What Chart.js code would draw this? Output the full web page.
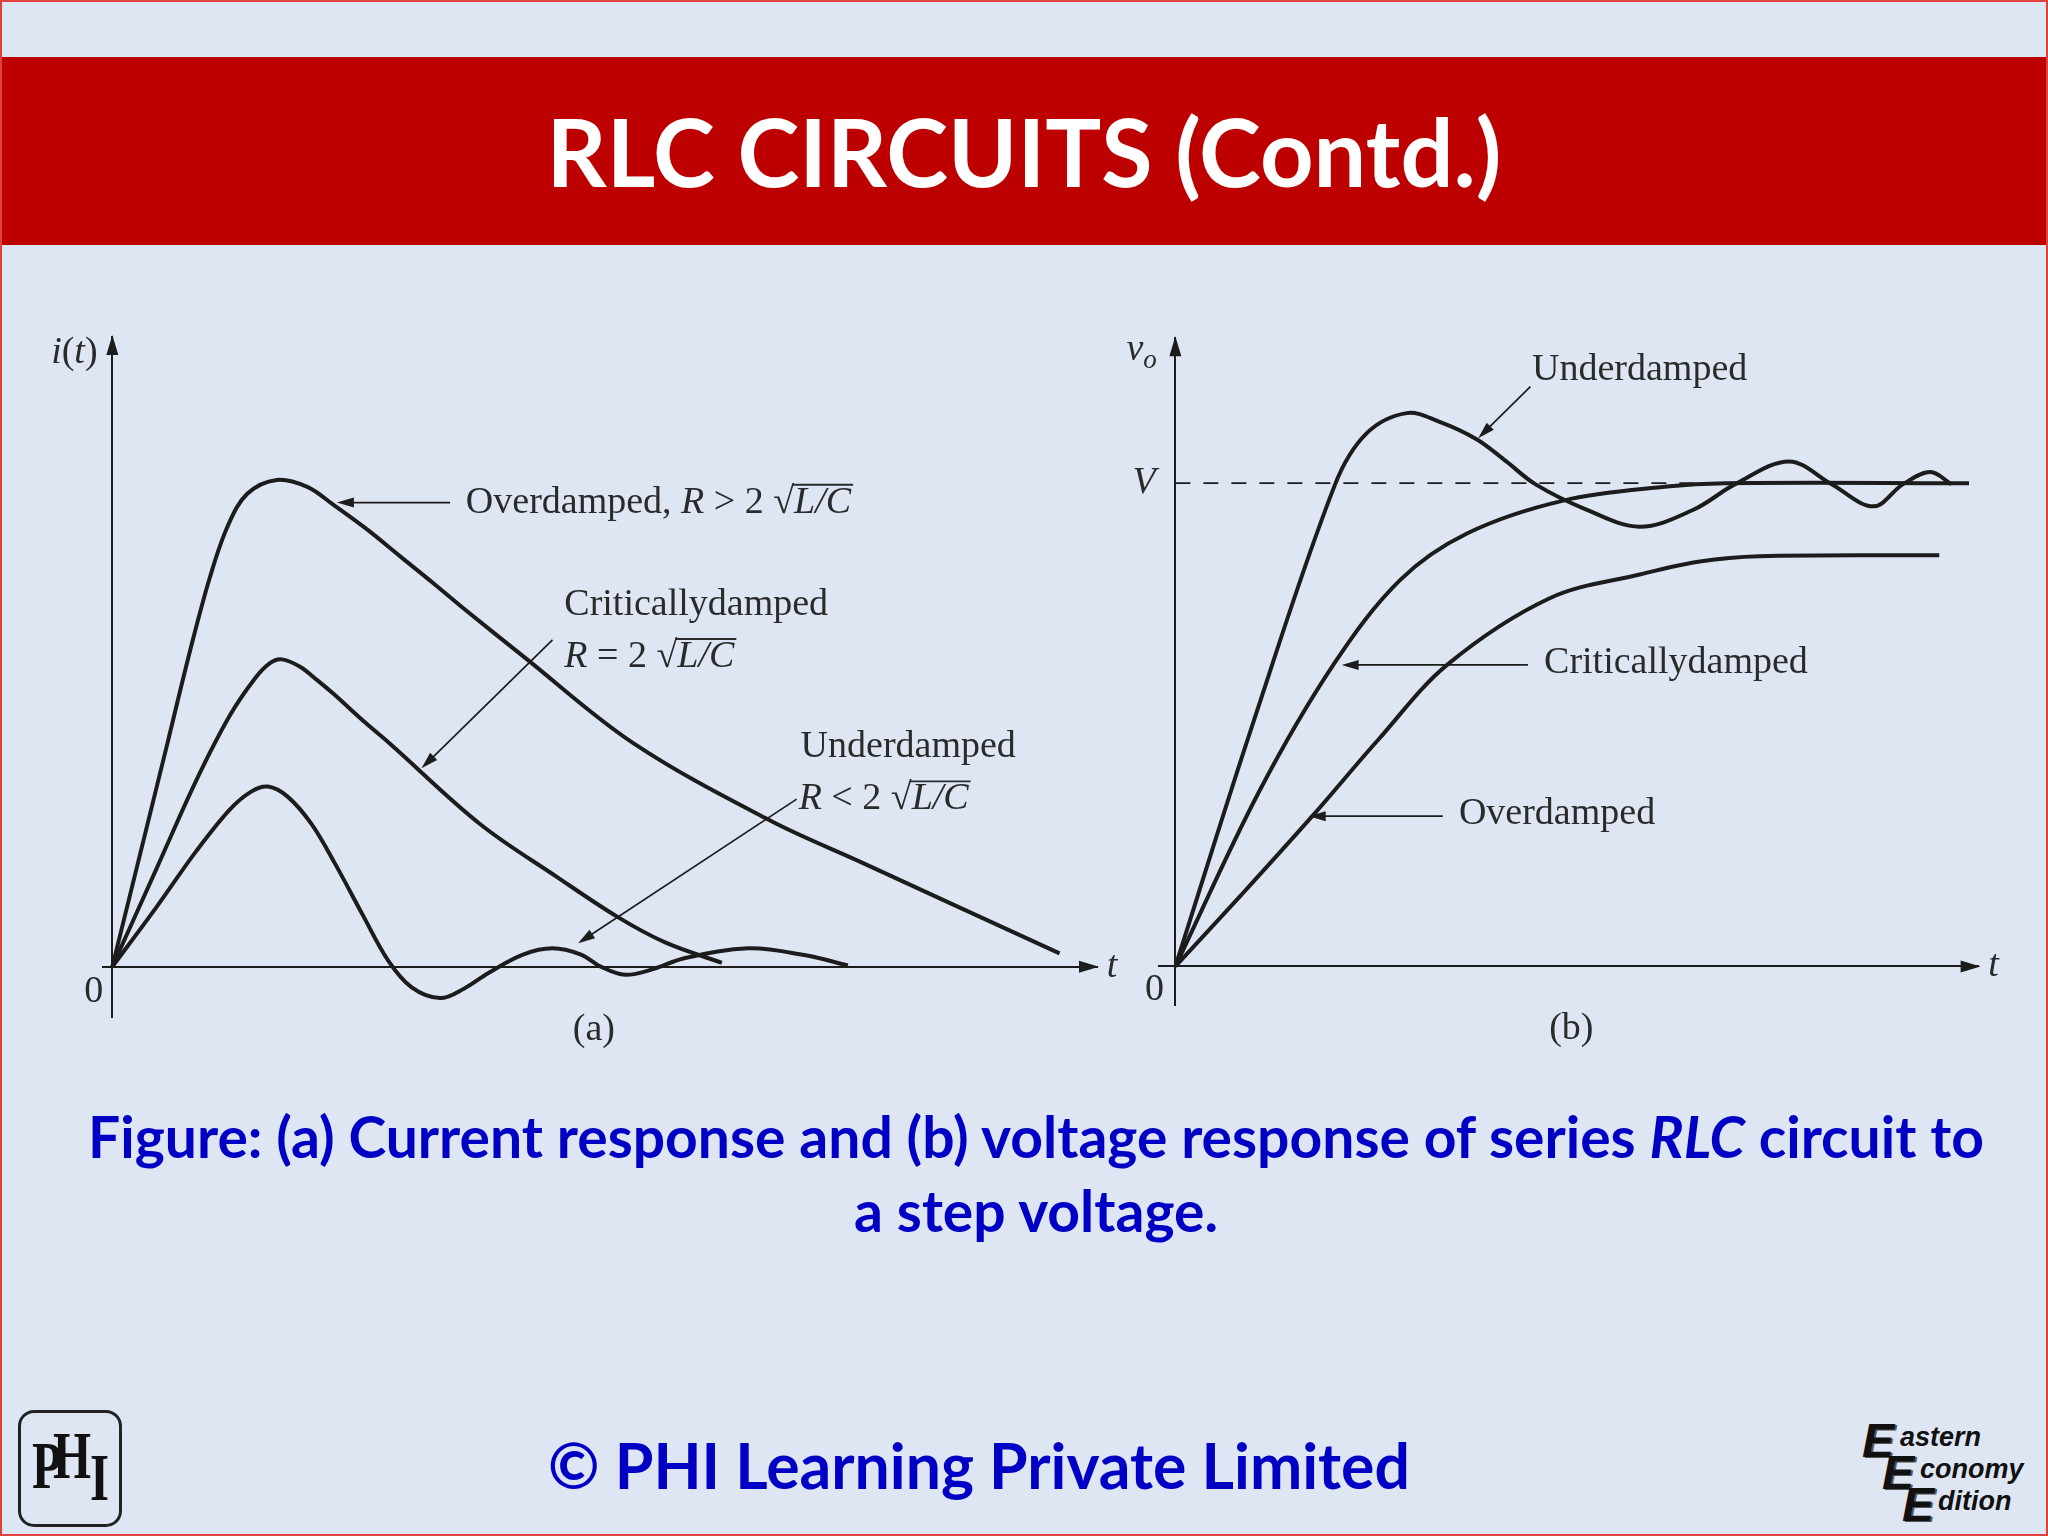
<!DOCTYPE html>
<html>
<head>
<meta charset="utf-8">
<script src="https://cdn.jsdelivr.net/npm/chart.js@4.4.1/dist/chart.umd.min.js"></script>
<style>
html, body { margin: 0; padding: 0; }
body { width: 2048px; height: 1536px; position: relative; overflow: hidden; background: #dfe6f3; font-family: Lato, "Open Sans", sans-serif; }
#frame { position: absolute; left: 0; top: 0; width: 2044px; height: 1532px; border: 2px solid #e2403f; }
#banner { position: absolute; left: 2px; top: 57px; width: 2044px; height: 188px; background: #bd0000; display: flex; align-items: center; justify-content: center; }
#title { color: #fff; font-weight: bold; font-size: 94px; white-space: nowrap; }
.box { position: absolute; }
#caption { position: absolute; left: 24px; width: 2024px; top: 1100px; text-align: center; color: #0000c4; font-weight: bold; font-size: 52px; line-height: 72px; }
#caption span { white-space: nowrap; }
#footer { position: absolute; left: 0; width: 1958px; top: 1425px; text-align: center; color: #0000c4; font-weight: bold; font-size: 60px; line-height: 80px; }
#phi { position: absolute; left: 18px; top: 1410px; width: 98px; height: 111px; border: 3px solid #222; border-radius: 16px; font-family: "Liberation Serif", serif; font-weight: bold; color: #111; }
#phi span { position: absolute; font-size: 68px; line-height: 1; transform: scaleX(0.72); transform-origin: left top; }
#eee { position: absolute; left: 1860px; top: 1420px; width: 170px; height: 108px; font-family: "Liberation Sans", sans-serif; font-weight: bold; font-style: italic; color: #111; }
#eee .big { position: absolute; font-size: 48px; line-height: 1; font-weight: 900; text-shadow: 2px 1px 0 #555; }
#eee .small { position: absolute; font-family: "Liberation Sans Narrow", "Liberation Sans", sans-serif; font-size: 27px; line-height: 1; }
</style>
</head>
<body>
<div id="frame"></div>
<div id="banner"><span id="title" class="fit" data-w="955">RLC CIRCUITS (Contd.)</span></div>

<div class="box" style="left:20px; top:300px;"><canvas id="chartA" width="1110" height="780"></canvas></div>
<div class="box" style="left:1120px; top:300px;"><canvas id="chartB" width="920" height="780"></canvas></div>

<div id="caption">
  <span id="cap1" class="fit" data-w="1896">Figure: (a) Current response and (b) voltage response of series <i>RLC</i> circuit to</span><br>
  <span id="cap2">a step voltage.</span>
</div>
<div id="footer"><span class="fit" data-w="862">© PHI Learning Private Limited</span></div>

<div id="phi">
  <span style="left:11px; top:18px;">P</span>
  <span style="left:32px; top:8px;">H</span>
  <span style="left:69px; top:30px;">I</span>
</div>
<div id="eee">
  <span class="big" style="left:2px; top:-3px;">E</span><span class="small" style="left:40px; top:4px;">astern</span>
  <span class="big" style="left:22px; top:29px;">E</span><span class="small" style="left:60px; top:36px;">conomy</span>
  <span class="big" style="left:42px; top:61px;">E</span><span class="small" style="left:78px; top:68px;">dition</span>
</div>

<script>
// (a) current response, time axis 0..10, current in arbitrary units
const odA_t = [0, 0.56, 0.79, 0.99, 1.17, 1.37, 1.67, 1.98, 2.24, 2.59, 2.92, 3.26, 3.59, 4.18, 5.29, 6.68, 7.63, 8.59, 9.62];
const odA_i = [0, 3.55, 5.02, 6.18, 6.99, 7.51, 7.73, 7.62, 7.34, 6.94, 6.52, 6.09, 5.66, 4.92, 3.55, 2.32, 1.64, 0.95, 0.21];
const cdA_t = [0, 0.45, 0.85, 1.19, 1.45, 1.60, 1.72, 1.91, 2.08, 2.24, 2.58, 2.82, 3.73, 4.51, 5.13, 5.62, 6.19];
const cdA_i = [0, 1.56, 2.95, 3.98, 4.58, 4.82, 4.88, 4.76, 4.55, 4.34, 3.86, 3.54, 2.27, 1.43, 0.79, 0.38, 0.06];
const udA_t = [0, 0.45, 0.85, 1.19, 1.41, 1.58, 1.78, 2.02, 2.26, 2.54, 2.80, 3.04, 3.33, 3.57, 3.82, 4.17, 4.47, 4.76, 4.96, 5.21, 5.49, 5.80, 6.46, 7.04, 7.47];
const udA_i = [0, 0.95, 1.83, 2.49, 2.78, 2.86, 2.70, 2.27, 1.64, 0.83, 0.10, -0.33, -0.50, -0.35, -0.10, 0.19, 0.29, 0.19, 0.0, -0.13, -0.04, 0.13, 0.29, 0.18, 0.02];

// (b) voltage response, V = 1
const udB_t = [0, 0.96, 1.99, 2.38, 2.88, 3.29, 3.75, 4.12, 4.48, 5.08, 5.78, 6.45, 6.97, 7.64, 8.17, 8.69, 9.06, 9.40, 9.66];
const udB_v = [0, 0.50, 0.998, 1.103, 1.145, 1.127, 1.091, 1.045, 0.998, 0.948, 0.910, 0.945, 0.998, 1.045, 0.998, 0.952, 0.998, 1.023, 0.998];
const cdB_t = [0, 1.04, 1.97, 2.80, 3.63, 4.83, 6.12, 6.85, 9.88];
const cdB_v = [0, 0.361, 0.625, 0.80, 0.896, 0.964, 0.993, 1.0, 1.0];
const odB_t = [0, 0.81, 1.71, 2.52, 3.39, 4.66, 5.78, 6.53, 7.27, 9.51];
const odB_v = [0, 0.146, 0.312, 0.468, 0.625, 0.762, 0.811, 0.838, 0.849, 0.851];
const vRef_t = [0, 9.88];
const vRef_v = [1, 1];

const INK = '#1c1c1c';
const SERIF = '"Liberation Serif", "DejaVu Serif", serif';

function pts(ts, vs) {
  return ts.map((t, k) => ({ x: t, y: vs[k] }));
}

function curve(ts, vs, extra) {
  return Object.assign({
    data: pts(ts, vs),
    borderColor: INK,
    borderWidth: 4,
    pointRadius: 0,
    fill: false,
    tension: 0.35
  }, extra || {});
}

function axes(xmin, xmax, ymin, ymax) {
  const base = {
    type: 'linear',
    grid: { display: false, drawTicks: false },
    ticks: { display: false },
    border: { display: true, color: INK, width: 2 }
  };
  return {
    x: Object.assign({}, base, { min: xmin, max: xmax, position: { y: 0 } }),
    y: Object.assign({}, base, { min: ymin, max: ymax, position: { x: 0 } })
  };
}

function head(ctx, x, y, ang, len, half) {
  ctx.save();
  ctx.translate(x, y);
  ctx.rotate(ang);
  ctx.beginPath();
  ctx.moveTo(0, 0);
  ctx.lineTo(-len, -half);
  ctx.lineTo(-len, half);
  ctx.closePath();
  ctx.fill();
  ctx.restore();
}

function runFont(r, size) {
  return (r.i ? 'italic ' : '') + Math.round(r.sub ? size * 0.72 : size) + 'px ' + SERIF;
}

function drawRuns(ctx, x0, y0, align, runs, size) {
  let w = 0;
  runs.forEach(r => { ctx.font = runFont(r, size); r.w = ctx.measureText(r.t).width; w += r.w; });
  let cx = align === 'right' ? x0 - w : align === 'center' ? x0 - w / 2 : x0;
  ctx.textAlign = 'left';
  ctx.textBaseline = 'middle';
  runs.forEach(r => {
    ctx.font = runFont(r, size);
    ctx.fillText(r.t, cx, y0 + (r.sub ? size * 0.28 : 0));
    if (r.bar) {
      ctx.lineWidth = 1.8;
      ctx.beginPath();
      ctx.moveTo(cx - 2, y0 - size * 0.47);
      ctx.lineTo(cx + r.w + 2, y0 - size * 0.47);
      ctx.stroke();
    }
    cx += r.w;
  });
}

const annotPlugin = {
  id: 'annot',
  afterDatasetsDraw(chart, args, opts) {
    const ctx = chart.ctx;
    const sx = chart.scales.x, sy = chart.scales.y;
    const px = v => sx.getPixelForValue(v);
    const py = v => sy.getPixelForValue(v);
    ctx.save();
    ctx.fillStyle = INK;
    ctx.strokeStyle = INK;
    // axis arrowheads
    head(ctx, px(sx.max) + 2, py(0), 0, 20, 6);
    head(ctx, px(0), py(sy.max) - 2, -Math.PI / 2, 20, 6);
    // pointer arrows
    ctx.lineWidth = 1.7;
    opts.arrows.forEach(a => {
      const x1 = px(a[0]), y1 = py(a[1]), x2 = px(a[2]), y2 = py(a[3]);
      const ang = Math.atan2(y2 - y1, x2 - x1);
      ctx.beginPath();
      ctx.moveTo(x1, y1);
      ctx.lineTo(x2 - Math.cos(ang) * 10, y2 - Math.sin(ang) * 10);
      ctx.stroke();
      head(ctx, x2, y2, ang, 17, 5);
    });
    ctx.fillStyle = '#2a2a2a';
    ctx.strokeStyle = '#2a2a2a';
    opts.labels.forEach(l => drawRuns(ctx, px(l.x), py(l.y), l.align, l.runs.map(r => Object.assign({}, r)), l.size || 38));
    ctx.restore();
  }
};

const sqrtLC = [{ t: '\u221A' }, { t: 'L/C', i: 1, bar: 1 }];

new Chart(document.getElementById('chartA'), {
  type: 'line',
  data: {
    datasets: [
      curve(odA_t, odA_i),
      curve(cdA_t, cdA_i),
      curve(udA_t, udA_i)
    ]
  },
  options: {
    responsive: false,
    animation: false,
    layout: { padding: { left: 82.5, top: 37, right: 33, bottom: 63 } },
    scales: axes(-0.1, 10, -0.8, 10),
    plugins: {
      legend: { display: false },
      tooltip: { enabled: false },
      annot: {
        arrows: [
          [3.43, 7.37, 2.28, 7.37],
          [4.47, 5.19, 3.14, 3.15],
          [6.95, 2.66, 4.73, 0.37]
        ],
        labels: [
          { x: -0.15, y: 9.75, align: 'right', runs: [{ t: 'i', i: 1 }, { t: '(' }, { t: 't', i: 1 }, { t: ')' }] },
          { x: -0.19, y: -0.41, align: 'center', runs: [{ t: '0' }] },
          { x: 10.1, y: 0, align: 'left', runs: [{ t: 't', i: 1 }] },
          { x: 4.89, y: -1.0, align: 'center', runs: [{ t: '(a)' }] },
          { x: 3.59, y: 7.37, align: 'left', runs: [{ t: 'Overdamped, ' }, { t: 'R', i: 1 }, { t: ' > 2 ' }].concat(sqrtLC) },
          { x: 4.59, y: 5.75, align: 'left', runs: [{ t: 'Criticallydamped' }] },
          { x: 4.59, y: 4.92, align: 'left', runs: [{ t: 'R', i: 1 }, { t: ' = 2 ' }].concat(sqrtLC) },
          { x: 6.99, y: 3.49, align: 'left', runs: [{ t: 'Underdamped' }] },
          { x: 6.97, y: 2.66, align: 'left', runs: [{ t: 'R', i: 1 }, { t: ' < 2 ' }].concat(sqrtLC) }
        ]
      }
    }
  },
  plugins: [annotPlugin]
});

new Chart(document.getElementById('chartB'), {
  type: 'line',
  data: {
    datasets: [
      curve(vRef_t, vRef_v, { borderWidth: 1.8, borderDash: [15, 13], tension: 0 }),
      curve(udB_t, udB_v),
      curve(cdB_t, cdB_v),
      curve(odB_t, odB_v)
    ]
  },
  options: {
    responsive: false,
    animation: false,
    layout: { padding: { left: 39.3, top: 38.2, right: 61.4, bottom: 74.9 } },
    scales: axes(-0.2, 10, -0.08, 1.3),
    plugins: {
      legend: { display: false },
      tooltip: { enabled: false },
      annot: {
        arrows: [
          [4.42, 1.20, 3.77, 1.093],
          [4.39, 0.624, 2.07, 0.624],
          [3.33, 0.311, 1.66, 0.311]
        ],
        labels: [
          { x: -0.42, y: 1.276, align: 'center', runs: [{ t: 'v', i: 1 }, { t: 'o', i: 1, sub: 1 }] },
          { x: -0.39, y: 1.0, align: 'center', runs: [{ t: 'V', i: 1 }] },
          { x: -0.26, y: -0.049, align: 'center', runs: [{ t: '0' }] },
          { x: 10.12, y: 0, align: 'left', runs: [{ t: 't', i: 1 }] },
          { x: 4.93, y: -0.13, align: 'center', runs: [{ t: '(b)' }] },
          { x: 4.44, y: 1.235, align: 'left', runs: [{ t: 'Underdamped' }] },
          { x: 4.59, y: 0.627, align: 'left', runs: [{ t: 'Criticallydamped' }] },
          { x: 3.53, y: 0.316, align: 'left', runs: [{ t: 'Overdamped' }] }
        ]
      }
    }
  },
  plugins: [annotPlugin]
});

function fitText() {
  document.querySelectorAll('.fit').forEach(el => {
    const target = +el.dataset.w;
    const fs = parseFloat(getComputedStyle(el).fontSize);
    const w = el.getBoundingClientRect().width;
    if (w > 0) el.style.fontSize = (fs * target / w).toFixed(1) + 'px';
  });
  document.getElementById('cap2').style.fontSize = document.getElementById('cap1').style.fontSize;
}
fitText();
if (document.fonts && document.fonts.ready) document.fonts.ready.then(fitText);
</script>
</body>
</html>
